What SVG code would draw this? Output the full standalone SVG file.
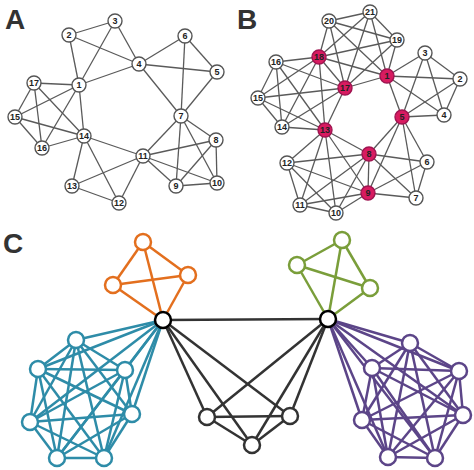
<svg xmlns="http://www.w3.org/2000/svg" width="474" height="470" viewBox="0 0 474 470">
<style>
.lbl{font-family:"Liberation Sans",Arial,sans-serif;font-weight:bold;font-size:28px;fill:#333}
.e{stroke:#5a5a5a;stroke-width:1.3;fill:none}
.n{fill:#fff;stroke:#555;stroke-width:1.4}
.m{fill:#d81b60;stroke:#9e1450;stroke-width:1.4}
.t{font-family:"Liberation Sans",Arial,sans-serif;font-weight:bold;font-size:9px;fill:#222;text-anchor:middle;dominant-baseline:central}
.or{stroke:#e36f1e;stroke-width:2.5;fill:none}
.gr{stroke:#7a9e3a;stroke-width:2.5;fill:none}
.te{stroke:#2e8ca8;stroke-width:2.5;fill:none}
.pu{stroke:#5c4588;stroke-width:2.5;fill:none}
.bk{stroke:#333;stroke-width:2.5;fill:none}
.cn{fill:#fff;stroke-width:2.5}
</style>
<text class="lbl" x="5" y="29">A</text>
<text class="lbl" x="237" y="29">B</text>
<text class="lbl" x="3" y="253">C</text>

<g id="edgesA">
<line class="e" x1="79" y1="85" x2="69" y2="35"/>
<line class="e" x1="79" y1="85" x2="115" y2="21"/>
<line class="e" x1="79" y1="85" x2="139" y2="64"/>
<line class="e" x1="79" y1="85" x2="34" y2="83"/>
<line class="e" x1="79" y1="85" x2="15" y2="117"/>
<line class="e" x1="79" y1="85" x2="42" y2="148"/>
<line class="e" x1="79" y1="85" x2="84" y2="136"/>
<line class="e" x1="69" y1="35" x2="115" y2="21"/>
<line class="e" x1="69" y1="35" x2="139" y2="64"/>
<line class="e" x1="115" y1="21" x2="139" y2="64"/>
<line class="e" x1="139" y1="64" x2="185" y2="36"/>
<line class="e" x1="139" y1="64" x2="217" y2="72"/>
<line class="e" x1="139" y1="64" x2="181" y2="116"/>
<line class="e" x1="217" y1="72" x2="185" y2="36"/>
<line class="e" x1="217" y1="72" x2="181" y2="116"/>
<line class="e" x1="185" y1="36" x2="181" y2="116"/>
<line class="e" x1="34" y1="83" x2="15" y2="117"/>
<line class="e" x1="34" y1="83" x2="42" y2="148"/>
<line class="e" x1="34" y1="83" x2="84" y2="136"/>
<line class="e" x1="15" y1="117" x2="42" y2="148"/>
<line class="e" x1="15" y1="117" x2="84" y2="136"/>
<line class="e" x1="42" y1="148" x2="84" y2="136"/>
<line class="e" x1="84" y1="136" x2="72" y2="186"/>
<line class="e" x1="84" y1="136" x2="119" y2="203"/>
<line class="e" x1="84" y1="136" x2="143" y2="156"/>
<line class="e" x1="72" y1="186" x2="143" y2="156"/>
<line class="e" x1="72" y1="186" x2="119" y2="203"/>
<line class="e" x1="119" y1="203" x2="143" y2="156"/>
<line class="e" x1="143" y1="156" x2="181" y2="116"/>
<line class="e" x1="143" y1="156" x2="216" y2="140"/>
<line class="e" x1="143" y1="156" x2="176" y2="186"/>
<line class="e" x1="143" y1="156" x2="217" y2="183"/>
<line class="e" x1="181" y1="116" x2="216" y2="140"/>
<line class="e" x1="181" y1="116" x2="176" y2="186"/>
<line class="e" x1="181" y1="116" x2="217" y2="183"/>
<line class="e" x1="216" y1="140" x2="176" y2="186"/>
<line class="e" x1="216" y1="140" x2="217" y2="183"/>
<line class="e" x1="176" y1="186" x2="217" y2="183"/>
</g>

<g id="edgesB">
<!-- top clique 18,20,21,19,17,1 -->
<line class="e" x1="319" y1="57" x2="329" y2="21"/>
<line class="e" x1="319" y1="57" x2="370" y2="12"/>
<line class="e" x1="319" y1="57" x2="397" y2="40"/>
<line class="e" x1="319" y1="57" x2="345" y2="88"/>
<line class="e" x1="319" y1="57" x2="387" y2="76"/>
<line class="e" x1="329" y1="21" x2="370" y2="12"/>
<line class="e" x1="329" y1="21" x2="397" y2="40"/>
<line class="e" x1="329" y1="21" x2="345" y2="88"/>
<line class="e" x1="329" y1="21" x2="387" y2="76"/>
<line class="e" x1="370" y1="12" x2="397" y2="40"/>
<line class="e" x1="370" y1="12" x2="345" y2="88"/>
<line class="e" x1="370" y1="12" x2="387" y2="76"/>
<line class="e" x1="397" y1="40" x2="345" y2="88"/>
<line class="e" x1="397" y1="40" x2="387" y2="76"/>
<line class="e" x1="345" y1="88" x2="387" y2="76"/>
<!-- left clique 13,14,15,16,17,18 -->
<line class="e" x1="276" y1="62" x2="258" y2="98"/>
<line class="e" x1="276" y1="62" x2="282" y2="127"/>
<line class="e" x1="276" y1="62" x2="319" y2="57"/>
<line class="e" x1="276" y1="62" x2="345" y2="88"/>
<line class="e" x1="276" y1="62" x2="325" y2="130"/>
<line class="e" x1="258" y1="98" x2="282" y2="127"/>
<line class="e" x1="258" y1="98" x2="319" y2="57"/>
<line class="e" x1="258" y1="98" x2="345" y2="88"/>
<line class="e" x1="258" y1="98" x2="325" y2="130"/>
<line class="e" x1="282" y1="127" x2="319" y2="57"/>
<line class="e" x1="282" y1="127" x2="345" y2="88"/>
<line class="e" x1="282" y1="127" x2="325" y2="130"/>
<line class="e" x1="319" y1="57" x2="325" y2="130"/>
<line class="e" x1="345" y1="88" x2="325" y2="130"/>
<!-- right clique 1,2,3,4,5 -->
<line class="e" x1="387" y1="76" x2="425" y2="53"/>
<line class="e" x1="387" y1="76" x2="460" y2="79"/>
<line class="e" x1="387" y1="76" x2="444" y2="115"/>
<line class="e" x1="387" y1="76" x2="402" y2="117"/>
<line class="e" x1="425" y1="53" x2="460" y2="79"/>
<line class="e" x1="425" y1="53" x2="444" y2="115"/>
<line class="e" x1="425" y1="53" x2="402" y2="117"/>
<line class="e" x1="460" y1="79" x2="444" y2="115"/>
<line class="e" x1="460" y1="79" x2="402" y2="117"/>
<line class="e" x1="444" y1="115" x2="402" y2="117"/>
<!-- lower right clique 5,6,7,8,9 -->
<line class="e" x1="402" y1="117" x2="427" y2="162"/>
<line class="e" x1="402" y1="117" x2="416" y2="198"/>
<line class="e" x1="402" y1="117" x2="369" y2="154"/>
<line class="e" x1="402" y1="117" x2="368" y2="193"/>
<line class="e" x1="427" y1="162" x2="416" y2="198"/>
<line class="e" x1="427" y1="162" x2="369" y2="154"/>
<line class="e" x1="427" y1="162" x2="368" y2="193"/>
<line class="e" x1="416" y1="198" x2="369" y2="154"/>
<line class="e" x1="416" y1="198" x2="368" y2="193"/>
<line class="e" x1="369" y1="154" x2="368" y2="193"/>
<!-- lower left clique 8,9,10,11,12,13 -->
<line class="e" x1="325" y1="130" x2="287" y2="163"/>
<line class="e" x1="325" y1="130" x2="300" y2="205"/>
<line class="e" x1="325" y1="130" x2="336" y2="213"/>
<line class="e" x1="325" y1="130" x2="369" y2="154"/>
<line class="e" x1="325" y1="130" x2="368" y2="193"/>
<line class="e" x1="287" y1="163" x2="300" y2="205"/>
<line class="e" x1="287" y1="163" x2="336" y2="213"/>
<line class="e" x1="287" y1="163" x2="369" y2="154"/>
<line class="e" x1="287" y1="163" x2="368" y2="193"/>
<line class="e" x1="300" y1="205" x2="336" y2="213"/>
<line class="e" x1="300" y1="205" x2="369" y2="154"/>
<line class="e" x1="300" y1="205" x2="368" y2="193"/>
<line class="e" x1="336" y1="213" x2="369" y2="154"/>
<line class="e" x1="336" y1="213" x2="368" y2="193"/>
</g>

<g id="edgesC">
<!-- orange -->
<line class="or" x1="143" y1="242" x2="113" y2="285"/>
<line class="or" x1="143" y1="242" x2="188" y2="275"/>
<line class="or" x1="143" y1="242" x2="163" y2="320"/>
<line class="or" x1="113" y1="285" x2="188" y2="275"/>
<line class="or" x1="113" y1="285" x2="163" y2="320"/>
<line class="or" x1="188" y1="275" x2="163" y2="320"/>
<!-- green -->
<line class="gr" x1="342" y1="240" x2="297" y2="265"/>
<line class="gr" x1="342" y1="240" x2="370" y2="288"/>
<line class="gr" x1="342" y1="240" x2="328" y2="319"/>
<line class="gr" x1="297" y1="265" x2="370" y2="288"/>
<line class="gr" x1="297" y1="265" x2="328" y2="319"/>
<line class="gr" x1="370" y1="288" x2="328" y2="319"/>
<!-- teal -->
<line class="te" x1="163" y1="320" x2="76" y2="340"/>
<line class="te" x1="163" y1="320" x2="38" y2="369"/>
<line class="te" x1="163" y1="320" x2="125" y2="370"/>
<line class="te" x1="163" y1="320" x2="30" y2="422"/>
<line class="te" x1="163" y1="320" x2="132" y2="414"/>
<line class="te" x1="163" y1="320" x2="57" y2="458"/>
<line class="te" x1="163" y1="320" x2="104" y2="458"/>
<line class="te" x1="76" y1="340" x2="38" y2="369"/>
<line class="te" x1="76" y1="340" x2="125" y2="370"/>
<line class="te" x1="76" y1="340" x2="30" y2="422"/>
<line class="te" x1="76" y1="340" x2="132" y2="414"/>
<line class="te" x1="76" y1="340" x2="57" y2="458"/>
<line class="te" x1="76" y1="340" x2="104" y2="458"/>
<line class="te" x1="38" y1="369" x2="125" y2="370"/>
<line class="te" x1="38" y1="369" x2="30" y2="422"/>
<line class="te" x1="38" y1="369" x2="132" y2="414"/>
<line class="te" x1="38" y1="369" x2="57" y2="458"/>
<line class="te" x1="38" y1="369" x2="104" y2="458"/>
<line class="te" x1="125" y1="370" x2="30" y2="422"/>
<line class="te" x1="125" y1="370" x2="132" y2="414"/>
<line class="te" x1="125" y1="370" x2="57" y2="458"/>
<line class="te" x1="125" y1="370" x2="104" y2="458"/>
<line class="te" x1="30" y1="422" x2="132" y2="414"/>
<line class="te" x1="30" y1="422" x2="57" y2="458"/>
<line class="te" x1="30" y1="422" x2="104" y2="458"/>
<line class="te" x1="132" y1="414" x2="57" y2="458"/>
<line class="te" x1="132" y1="414" x2="104" y2="458"/>
<line class="te" x1="57" y1="458" x2="104" y2="458"/>
<!-- purple -->
<line class="pu" x1="328" y1="319" x2="410" y2="343"/>
<line class="pu" x1="328" y1="319" x2="372" y2="368"/>
<line class="pu" x1="328" y1="319" x2="459" y2="371"/>
<line class="pu" x1="328" y1="319" x2="362" y2="420"/>
<line class="pu" x1="328" y1="319" x2="463" y2="415"/>
<line class="pu" x1="328" y1="319" x2="388" y2="457"/>
<line class="pu" x1="328" y1="319" x2="435" y2="458"/>
<line class="pu" x1="410" y1="343" x2="372" y2="368"/>
<line class="pu" x1="410" y1="343" x2="459" y2="371"/>
<line class="pu" x1="410" y1="343" x2="362" y2="420"/>
<line class="pu" x1="410" y1="343" x2="463" y2="415"/>
<line class="pu" x1="410" y1="343" x2="388" y2="457"/>
<line class="pu" x1="410" y1="343" x2="435" y2="458"/>
<line class="pu" x1="372" y1="368" x2="459" y2="371"/>
<line class="pu" x1="372" y1="368" x2="362" y2="420"/>
<line class="pu" x1="372" y1="368" x2="463" y2="415"/>
<line class="pu" x1="372" y1="368" x2="388" y2="457"/>
<line class="pu" x1="372" y1="368" x2="435" y2="458"/>
<line class="pu" x1="459" y1="371" x2="362" y2="420"/>
<line class="pu" x1="459" y1="371" x2="463" y2="415"/>
<line class="pu" x1="459" y1="371" x2="388" y2="457"/>
<line class="pu" x1="459" y1="371" x2="435" y2="458"/>
<line class="pu" x1="362" y1="420" x2="463" y2="415"/>
<line class="pu" x1="362" y1="420" x2="388" y2="457"/>
<line class="pu" x1="362" y1="420" x2="435" y2="458"/>
<line class="pu" x1="463" y1="415" x2="388" y2="457"/>
<line class="pu" x1="463" y1="415" x2="435" y2="458"/>
<line class="pu" x1="388" y1="457" x2="435" y2="458"/>
<!-- black -->
<line class="bk" x1="163" y1="320" x2="328" y2="319"/>
<line class="bk" x1="163" y1="320" x2="207" y2="417"/>
<line class="bk" x1="163" y1="320" x2="290" y2="416"/>
<line class="bk" x1="163" y1="320" x2="252" y2="445"/>
<line class="bk" x1="328" y1="319" x2="207" y2="417"/>
<line class="bk" x1="328" y1="319" x2="290" y2="416"/>
<line class="bk" x1="328" y1="319" x2="252" y2="445"/>
<line class="bk" x1="207" y1="417" x2="290" y2="416"/>
<line class="bk" x1="207" y1="417" x2="252" y2="445"/>
<line class="bk" x1="290" y1="416" x2="252" y2="445"/>
</g>

<g id="nodesA">
<g id="a1"><circle class="n" cx="79" cy="85" r="7"/><text class="t" x="79" y="85">1</text></g>
<g id="a2"><circle class="n" cx="69" cy="35" r="7"/><text class="t" x="69" y="35">2</text></g>
<g id="a3"><circle class="n" cx="115" cy="21" r="7"/><text class="t" x="115" y="21">3</text></g>
<g id="a4"><circle class="n" cx="139" cy="64" r="7"/><text class="t" x="139" y="64">4</text></g>
<g id="a5"><circle class="n" cx="217" cy="72" r="7"/><text class="t" x="217" y="72">5</text></g>
<g id="a6"><circle class="n" cx="185" cy="36" r="7"/><text class="t" x="185" y="36">6</text></g>
<g id="a7"><circle class="n" cx="181" cy="116" r="7"/><text class="t" x="181" y="116">7</text></g>
<g id="a8"><circle class="n" cx="216" cy="140" r="7"/><text class="t" x="216" y="140">8</text></g>
<g id="a9"><circle class="n" cx="176" cy="186" r="7"/><text class="t" x="176" y="186">9</text></g>
<g id="a10"><circle class="n" cx="217" cy="183" r="7"/><text class="t" x="217" y="183">10</text></g>
<g id="a11"><circle class="n" cx="143" cy="156" r="7"/><text class="t" x="143" y="156">11</text></g>
<g id="a12"><circle class="n" cx="119" cy="203" r="7"/><text class="t" x="119" y="203">12</text></g>
<g id="a13"><circle class="n" cx="72" cy="186" r="7"/><text class="t" x="72" y="186">13</text></g>
<g id="a14"><circle class="n" cx="84" cy="136" r="7"/><text class="t" x="84" y="136">14</text></g>
<g id="a15"><circle class="n" cx="15" cy="117" r="7"/><text class="t" x="15" y="117">15</text></g>
<g id="a16"><circle class="n" cx="42" cy="148" r="7"/><text class="t" x="42" y="148">16</text></g>
<g id="a17"><circle class="n" cx="34" cy="83" r="7"/><text class="t" x="34" y="83">17</text></g>
</g>

<g id="nodesB">
<g id="b1"><circle class="m" cx="387" cy="76" r="7"/><text class="t" x="387" y="76">1</text></g>
<g id="b2"><circle class="n" cx="460" cy="79" r="7"/><text class="t" x="460" y="79">2</text></g>
<g id="b3"><circle class="n" cx="425" cy="53" r="7"/><text class="t" x="425" y="53">3</text></g>
<g id="b4"><circle class="n" cx="444" cy="115" r="7"/><text class="t" x="444" y="115">4</text></g>
<g id="b5"><circle class="m" cx="402" cy="117" r="7"/><text class="t" x="402" y="117">5</text></g>
<g id="b6"><circle class="n" cx="427" cy="162" r="7"/><text class="t" x="427" y="162">6</text></g>
<g id="b7"><circle class="n" cx="416" cy="198" r="7"/><text class="t" x="416" y="198">7</text></g>
<g id="b8"><circle class="m" cx="369" cy="154" r="7"/><text class="t" x="369" y="154">8</text></g>
<g id="b9"><circle class="m" cx="368" cy="193" r="7"/><text class="t" x="368" y="193">9</text></g>
<g id="b10"><circle class="n" cx="336" cy="213" r="7"/><text class="t" x="336" y="213">10</text></g>
<g id="b11"><circle class="n" cx="300" cy="205" r="7"/><text class="t" x="300" y="205">11</text></g>
<g id="b12"><circle class="n" cx="287" cy="163" r="7"/><text class="t" x="287" y="163">12</text></g>
<g id="b13"><circle class="m" cx="325" cy="130" r="7"/><text class="t" x="325" y="130">13</text></g>
<g id="b14"><circle class="n" cx="282" cy="127" r="7"/><text class="t" x="282" y="127">14</text></g>
<g id="b15"><circle class="n" cx="258" cy="98" r="7"/><text class="t" x="258" y="98">15</text></g>
<g id="b16"><circle class="n" cx="276" cy="62" r="7"/><text class="t" x="276" y="62">16</text></g>
<g id="b17"><circle class="m" cx="345" cy="88" r="7"/><text class="t" x="345" y="88">17</text></g>
<g id="b18"><circle class="m" cx="319" cy="57" r="7"/><text class="t" x="319" y="57">18</text></g>
<g id="b19"><circle class="n" cx="397" cy="40" r="7"/><text class="t" x="397" y="40">19</text></g>
<g id="b20"><circle class="n" cx="329" cy="21" r="7"/><text class="t" x="329" y="21">20</text></g>
<g id="b21"><circle class="n" cx="370" cy="12" r="7"/><text class="t" x="370" y="12">21</text></g>
</g>

<g id="nodesC">
<g id="o1"><circle class="cn" stroke="#e36f1e" cx="143" cy="242" r="8"/></g>
<g id="o2"><circle class="cn" stroke="#e36f1e" cx="113" cy="285" r="8"/></g>
<g id="o3"><circle class="cn" stroke="#e36f1e" cx="188" cy="275" r="8"/></g>
<g id="g1"><circle class="cn" stroke="#7a9e3a" cx="342" cy="240" r="8"/></g>
<g id="g2"><circle class="cn" stroke="#7a9e3a" cx="297" cy="265" r="8"/></g>
<g id="g3"><circle class="cn" stroke="#7a9e3a" cx="370" cy="288" r="8"/></g>
<g id="t1"><circle class="cn" stroke="#2e8ca8" cx="76" cy="340" r="8"/></g>
<g id="t2"><circle class="cn" stroke="#2e8ca8" cx="38" cy="369" r="8"/></g>
<g id="t3"><circle class="cn" stroke="#2e8ca8" cx="125" cy="370" r="8"/></g>
<g id="t4"><circle class="cn" stroke="#2e8ca8" cx="30" cy="422" r="8"/></g>
<g id="t5"><circle class="cn" stroke="#2e8ca8" cx="132" cy="414" r="8"/></g>
<g id="t6"><circle class="cn" stroke="#2e8ca8" cx="57" cy="458" r="8"/></g>
<g id="t7"><circle class="cn" stroke="#2e8ca8" cx="104" cy="458" r="8"/></g>
<g id="p1"><circle class="cn" stroke="#5c4588" cx="410" cy="343" r="8"/></g>
<g id="p2"><circle class="cn" stroke="#5c4588" cx="372" cy="368" r="8"/></g>
<g id="p3"><circle class="cn" stroke="#5c4588" cx="459" cy="371" r="8"/></g>
<g id="p4"><circle class="cn" stroke="#5c4588" cx="362" cy="420" r="8"/></g>
<g id="p5"><circle class="cn" stroke="#5c4588" cx="463" cy="415" r="8"/></g>
<g id="p6"><circle class="cn" stroke="#5c4588" cx="388" cy="457" r="8"/></g>
<g id="p7"><circle class="cn" stroke="#5c4588" cx="435" cy="458" r="8"/></g>
<g id="k1"><circle class="cn" stroke="#333" cx="207" cy="417" r="8"/></g>
<g id="k2"><circle class="cn" stroke="#333" cx="290" cy="416" r="8"/></g>
<g id="k3"><circle class="cn" stroke="#333" cx="252" cy="445" r="8"/></g>
<g id="h1"><circle class="cn" stroke="#000" stroke-width="3" cx="163" cy="320" r="8"/></g>
<g id="h2"><circle class="cn" stroke="#000" stroke-width="3" cx="328" cy="319" r="8"/></g>
</g>
</svg>
